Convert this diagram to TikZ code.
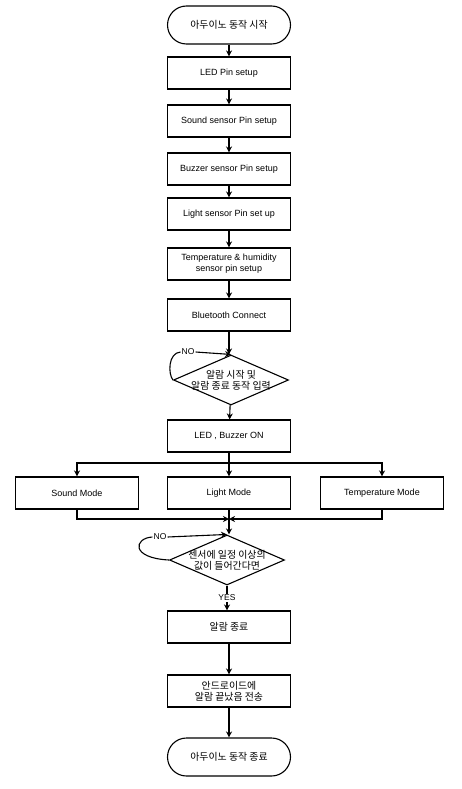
\documentclass[tikz,border=0pt]{standalone}
\usepackage{fontspec}
\setmainfont{Liberation Sans}
\newfontfamily\kr{Noto Sans CJK KR}[Scale=1.1]
\usetikzlibrary{arrows.meta}
\usetikzlibrary{shapes.geometric}

\begin{document}
\begin{tikzpicture}[x=1pt, y=-1pt,
    box/.style={draw, line width=1.1pt, minimum width=123pt, minimum height=32pt, inner sep=1pt, align=center, font=\fontsize{9}{11}\selectfont},
    term/.style={box, minimum height=38pt, rounded corners=19pt},
    decision/.style={draw, diamond, line width=1.1pt, aspect=2.3, inner sep=0pt, minimum width=115pt, minimum height=50pt},
    dtext/.style={align=center, inner sep=0pt, font=\fontsize{9}{11}\selectfont},
    flow/.style={line width=1.1pt, -{Stealth[length=6pt,width=6pt]}},
    line/.style={line width=1.1pt},
    tag/.style={font=\fontsize{8.5}{9}\selectfont, inner sep=1pt}]
      \useasboundingbox (0,0) rectangle (462,789);
      \node[term] (start) at (229,25) {\kr 아두이노 동작 시작};
      \node[box] (ledpin) at (229,73) {LED Pin setup};
      \node[box] (soundpin) at (229,121) {Sound sensor Pin setup};
      \node[box] (buzzpin) at (229,169) {Buzzer sensor Pin setup};
      \node[box] (lightpin) at (229,214) {Light sensor Pin set up};
      \node[box] (temppin) at (229,264) {Temperature \& humidity\\sensor pin setup};
      \node[box] (bt) at (229,315) {Bluetooth Connect};
      \node[decision] (alarmin) at (231,380) {};
      \node[dtext] (alarmintxt) at (alarmin) {\kr 알람 시작 및\\\kr 알람 종료 동작 입력};
      \node[box] (ledbuz) at (229,436) {LED , Buzzer ON};
      \node[box] (soundmode) at (77,493) {Sound Mode};
      \node[box] (lightmode) at (229,493) {Light Mode};
      \node[box] (tempmode) at (382,493) {Temperature Mode};
      \node[decision] (check) at (227,560) {};
      \node[dtext] (checktxt) at (check) {\kr 센서에 일정 이상의\\\kr 값이 들어간다면};
      \node[box] (alarmoff) at (229,627) {\kr 알람 종료};
      \node[box] (send) at (229,691) {\kr 안드로이드에\\\kr 알람 끝났음 전송};
      \node[term] (stop) at (229,757) {\kr 아두이노 동작 종료};
      \coordinate (split) at (229,463);
      \coordinate (join) at (229,519);

      \draw[flow] (start) -- (ledpin);
      \draw[flow] (ledpin) -- (soundpin);
      \draw[flow] (soundpin) -- (buzzpin);
      \draw[flow] (buzzpin) -- (lightpin);
      \draw[flow] (lightpin) -- (temppin);
      \draw[flow] (temppin) -- (bt);
      \draw[flow] (bt) -- (bt |- alarmin.north);
      \node[tag] (no1) at (188,352) {NO};
      \draw[line] (alarmin.west) .. controls (168,374) and (168,353) .. (no1.west);
      \draw[flow] (no1.east) -- (alarmin.north);
      \draw[flow] (alarmin) -- (ledbuz);

      \draw[flow] (ledbuz) -- (lightmode);
      \draw[flow] (split) -| (soundmode);
      \draw[flow] (split) -| (tempmode);
      \draw[flow] (soundmode) |- (join);
      \draw[flow] (tempmode) |- (join);
      \draw[flow] (lightmode) -- (lightmode |- check.north);

      \node[tag] (no2) at (160,537) {NO};
      \draw[line] (check.west) .. controls (130,558) and (134,538) .. (no2.west);
      \draw[flow] (no2.east) -- (check.north);
      \draw[flow] (check) -- node[tag, fill=white] {YES} (check |- alarmoff.north);
      \draw[flow] (alarmoff) -- (send);
      \draw[flow] (send) -- (stop);

    \end{tikzpicture}
\end{document}
